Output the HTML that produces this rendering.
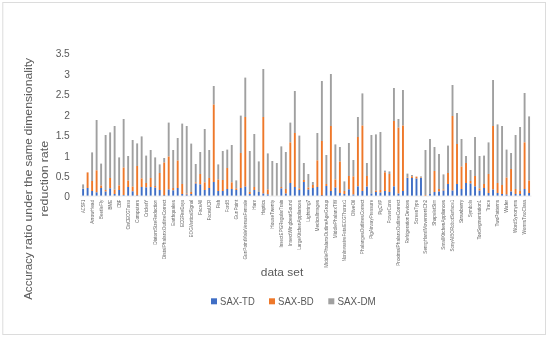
<!DOCTYPE html>
<html lang="en"><head><meta charset="utf-8"><title>Accuracy ratio chart</title>
<style>
html,body{margin:0;padding:0;background:#fff;}
body{width:550px;height:340px;overflow:hidden;}
svg{display:block;font-family:"Liberation Sans",Arial,sans-serif;}
</style></head><body>
<svg width="550" height="340" viewBox="0 0 550 340">
<rect x="0" y="0" width="550" height="340" fill="#fff"/>
<rect x="2.8" y="2.5" width="542.7" height="332" fill="none" stroke="#DCDCDC" stroke-width="1"/>
<line x1="80.5" y1="196.1" x2="531.5" y2="196.1" stroke="#E6E6E6" stroke-width="0.8"/>

<g fill="#A0A0A0">
<rect x="82.15" y="184.4" width="1.9" height="4.4"/>
<rect x="91.16" y="152.4" width="1.9" height="28.6"/>
<rect x="95.66" y="120.0" width="1.9" height="50.4"/>
<rect x="100.17" y="163.6" width="1.9" height="22.0"/>
<rect x="104.67" y="135.0" width="1.9" height="55.0"/>
<rect x="109.18" y="132.4" width="1.9" height="45.6"/>
<rect x="113.68" y="126.0" width="1.9" height="63.6"/>
<rect x="118.19" y="157.4" width="1.9" height="28.0"/>
<rect x="122.69" y="119.0" width="1.9" height="48.6"/>
<rect x="127.20" y="156.0" width="1.9" height="24.6"/>
<rect x="131.71" y="140.0" width="1.9" height="46.6"/>
<rect x="136.21" y="143.4" width="1.9" height="22.6"/>
<rect x="140.72" y="136.4" width="1.9" height="42.0"/>
<rect x="145.22" y="155.6" width="1.9" height="27.4"/>
<rect x="149.73" y="150.0" width="1.9" height="28.0"/>
<rect x="154.23" y="157.4" width="1.9" height="28.6"/>
<rect x="158.74" y="164.4" width="1.9" height="8.6"/>
<rect x="163.24" y="158.0" width="1.9" height="4.6"/>
<rect x="167.75" y="122.6" width="1.9" height="34.0"/>
<rect x="172.25" y="150.0" width="1.9" height="38.0"/>
<rect x="176.75" y="138.0" width="1.9" height="22.6"/>
<rect x="181.26" y="123.6" width="1.9" height="60.4"/>
<rect x="185.76" y="126.0" width="1.9" height="67.6"/>
<rect x="190.27" y="143.6" width="1.9" height="48.4"/>
<rect x="194.78" y="164.0" width="1.9" height="18.4"/>
<rect x="199.28" y="152.0" width="1.9" height="22.0"/>
<rect x="203.78" y="129.0" width="1.9" height="53.4"/>
<rect x="208.29" y="150.0" width="1.9" height="28.0"/>
<rect x="212.80" y="86.0" width="1.9" height="18.6"/>
<rect x="217.30" y="164.4" width="1.9" height="15.2"/>
<rect x="221.81" y="151.0" width="1.9" height="29.0"/>
<rect x="226.31" y="149.6" width="1.9" height="18.4"/>
<rect x="230.81" y="145.0" width="1.9" height="37.4"/>
<rect x="235.32" y="180.4" width="1.9" height="8.0"/>
<rect x="239.82" y="115.6" width="1.9" height="37.4"/>
<rect x="244.33" y="77.6" width="1.9" height="39.4"/>
<rect x="248.84" y="151.0" width="1.9" height="41.0"/>
<rect x="253.34" y="134.0" width="1.9" height="53.0"/>
<rect x="257.84" y="161.4" width="1.9" height="30.6"/>
<rect x="262.35" y="69.0" width="1.9" height="48.0"/>
<rect x="266.85" y="153.4" width="1.9" height="36.2"/>
<rect x="271.36" y="161.0" width="1.9" height="34.6"/>
<rect x="275.87" y="163.0" width="1.9" height="32.6"/>
<rect x="280.37" y="146.4" width="1.9" height="40.6"/>
<rect x="284.88" y="152.0" width="1.9" height="37.0"/>
<rect x="289.38" y="122.6" width="1.9" height="19.8"/>
<rect x="293.88" y="91.0" width="1.9" height="42.0"/>
<rect x="298.39" y="135.6" width="1.9" height="52.8"/>
<rect x="302.90" y="163.0" width="1.9" height="17.0"/>
<rect x="307.40" y="174.0" width="1.9" height="13.6"/>
<rect x="311.91" y="182.0" width="1.9" height="3.0"/>
<rect x="316.41" y="133.0" width="1.9" height="27.4"/>
<rect x="320.92" y="81.0" width="1.9" height="60.0"/>
<rect x="325.42" y="155.0" width="1.9" height="29.0"/>
<rect x="329.93" y="74.0" width="1.9" height="52.0"/>
<rect x="334.43" y="144.4" width="1.9" height="35.2"/>
<rect x="338.94" y="147.0" width="1.9" height="14.6"/>
<rect x="343.44" y="181.4" width="1.9" height="9.6"/>
<rect x="347.94" y="143.0" width="1.9" height="33.0"/>
<rect x="352.45" y="160.0" width="1.9" height="16.4"/>
<rect x="356.95" y="117.0" width="1.9" height="20.0"/>
<rect x="361.46" y="93.4" width="1.9" height="32.2"/>
<rect x="365.96" y="163.0" width="1.9" height="13.0"/>
<rect x="370.47" y="135.0" width="1.9" height="58.6"/>
<rect x="374.97" y="134.4" width="1.9" height="56.2"/>
<rect x="379.48" y="132.0" width="1.9" height="58.0"/>
<rect x="383.98" y="170.6" width="1.9" height="1.8"/>
<rect x="388.49" y="171.4" width="1.9" height="2.6"/>
<rect x="392.99" y="88.0" width="1.9" height="33.0"/>
<rect x="397.50" y="119.0" width="1.9" height="8.6"/>
<rect x="402.01" y="90.0" width="1.9" height="35.6"/>
<rect x="406.51" y="173.6" width="1.9" height="4.0"/>
<rect x="411.02" y="175.0" width="1.9" height="1.4"/>
<rect x="420.03" y="176.4" width="1.9" height="1.2"/>
<rect x="424.53" y="150.0" width="1.9" height="45.0"/>
<rect x="429.04" y="139.0" width="1.9" height="55.0"/>
<rect x="433.54" y="147.0" width="1.9" height="24.0"/>
<rect x="438.05" y="154.0" width="1.9" height="35.0"/>
<rect x="442.55" y="174.4" width="1.9" height="15.2"/>
<rect x="447.06" y="145.6" width="1.9" height="27.4"/>
<rect x="451.56" y="85.0" width="1.9" height="31.0"/>
<rect x="456.06" y="113.0" width="1.9" height="31.0"/>
<rect x="460.57" y="139.0" width="1.9" height="27.6"/>
<rect x="465.07" y="156.0" width="1.9" height="7.0"/>
<rect x="469.58" y="170.0" width="1.9" height="11.0"/>
<rect x="474.08" y="137.0" width="1.9" height="39.0"/>
<rect x="478.59" y="156.0" width="1.9" height="32.4"/>
<rect x="483.09" y="155.6" width="1.9" height="28.4"/>
<rect x="487.60" y="142.4" width="1.9" height="31.6"/>
<rect x="492.10" y="80.0" width="1.9" height="46.0"/>
<rect x="496.61" y="124.4" width="1.9" height="58.6"/>
<rect x="501.11" y="126.0" width="1.9" height="59.0"/>
<rect x="505.62" y="149.6" width="1.9" height="28.0"/>
<rect x="510.12" y="153.0" width="1.9" height="16.0"/>
<rect x="514.63" y="135.0" width="1.9" height="54.0"/>
<rect x="519.13" y="127.0" width="1.9" height="64.0"/>
<rect x="523.64" y="93.0" width="1.9" height="49.4"/>
<rect x="528.14" y="116.4" width="1.9" height="64.2"/>
</g>
<g fill="#EE782A">
<rect x="86.65" y="172.4" width="1.9" height="15.6"/>
<rect x="91.16" y="181.0" width="1.9" height="10.0"/>
<rect x="95.66" y="170.4" width="1.9" height="22.0"/>
<rect x="100.17" y="185.6" width="1.9" height="2.4"/>
<rect x="104.67" y="190.0" width="1.9" height="1.6"/>
<rect x="109.18" y="178.0" width="1.9" height="10.4"/>
<rect x="113.68" y="189.6" width="1.9" height="4.4"/>
<rect x="118.19" y="185.4" width="1.9" height="4.6"/>
<rect x="122.69" y="167.6" width="1.9" height="27.4"/>
<rect x="127.20" y="180.6" width="1.9" height="6.4"/>
<rect x="131.71" y="186.6" width="1.9" height="4.8"/>
<rect x="136.21" y="166.0" width="1.9" height="29.4"/>
<rect x="140.72" y="178.4" width="1.9" height="8.6"/>
<rect x="145.22" y="183.0" width="1.9" height="4.4"/>
<rect x="149.73" y="178.0" width="1.9" height="9.0"/>
<rect x="154.23" y="186.0" width="1.9" height="1.6"/>
<rect x="158.74" y="173.0" width="1.9" height="17.0"/>
<rect x="163.24" y="162.6" width="1.9" height="32.8"/>
<rect x="167.75" y="156.6" width="1.9" height="33.0"/>
<rect x="172.25" y="188.0" width="1.9" height="2.4"/>
<rect x="176.75" y="160.6" width="1.9" height="27.4"/>
<rect x="181.26" y="184.0" width="1.9" height="10.0"/>
<rect x="185.76" y="193.6" width="1.9" height="1.0"/>
<rect x="190.27" y="192.0" width="1.9" height="2.0"/>
<rect x="194.78" y="182.4" width="1.9" height="1.2"/>
<rect x="199.28" y="174.0" width="1.9" height="10.4"/>
<rect x="203.78" y="182.4" width="1.9" height="7.6"/>
<rect x="208.29" y="178.0" width="1.9" height="10.0"/>
<rect x="212.80" y="104.6" width="1.9" height="77.4"/>
<rect x="217.30" y="179.6" width="1.9" height="11.4"/>
<rect x="221.81" y="180.0" width="1.9" height="11.0"/>
<rect x="226.31" y="168.0" width="1.9" height="21.0"/>
<rect x="230.81" y="182.4" width="1.9" height="6.6"/>
<rect x="235.32" y="188.4" width="1.9" height="1.6"/>
<rect x="239.82" y="153.0" width="1.9" height="35.0"/>
<rect x="244.33" y="117.0" width="1.9" height="69.6"/>
<rect x="248.84" y="192.0" width="1.9" height="2.0"/>
<rect x="253.34" y="187.0" width="1.9" height="3.0"/>
<rect x="262.35" y="117.0" width="1.9" height="76.6"/>
<rect x="266.85" y="189.6" width="1.9" height="4.8"/>
<rect x="280.37" y="187.0" width="1.9" height="1.4"/>
<rect x="284.88" y="189.0" width="1.9" height="4.6"/>
<rect x="289.38" y="142.4" width="1.9" height="40.6"/>
<rect x="293.88" y="133.0" width="1.9" height="54.0"/>
<rect x="298.39" y="188.4" width="1.9" height="1.6"/>
<rect x="302.90" y="180.0" width="1.9" height="2.0"/>
<rect x="307.40" y="187.6" width="1.9" height="2.0"/>
<rect x="311.91" y="185.0" width="1.9" height="3.0"/>
<rect x="316.41" y="160.4" width="1.9" height="26.6"/>
<rect x="320.92" y="141.0" width="1.9" height="54.6"/>
<rect x="325.42" y="184.0" width="1.9" height="2.0"/>
<rect x="329.93" y="126.0" width="1.9" height="65.0"/>
<rect x="334.43" y="179.6" width="1.9" height="8.0"/>
<rect x="338.94" y="161.6" width="1.9" height="31.4"/>
<rect x="343.44" y="191.0" width="1.9" height="3.0"/>
<rect x="347.94" y="176.0" width="1.9" height="13.4"/>
<rect x="352.45" y="176.4" width="1.9" height="18.2"/>
<rect x="356.95" y="137.0" width="1.9" height="49.4"/>
<rect x="361.46" y="125.6" width="1.9" height="65.4"/>
<rect x="365.96" y="176.0" width="1.9" height="10.6"/>
<rect x="374.97" y="190.6" width="1.9" height="1.4"/>
<rect x="379.48" y="190.0" width="1.9" height="2.6"/>
<rect x="383.98" y="172.4" width="1.9" height="18.6"/>
<rect x="388.49" y="174.0" width="1.9" height="18.0"/>
<rect x="392.99" y="121.0" width="1.9" height="65.4"/>
<rect x="397.50" y="127.6" width="1.9" height="66.0"/>
<rect x="402.01" y="125.6" width="1.9" height="65.4"/>
<rect x="406.51" y="177.6" width="1.9" height="0.4"/>
<rect x="411.02" y="176.4" width="1.9" height="1.6"/>
<rect x="415.52" y="176.6" width="1.9" height="2.0"/>
<rect x="420.03" y="177.6" width="1.9" height="0.4"/>
<rect x="424.53" y="195.0" width="1.9" height="0.6"/>
<rect x="433.54" y="171.0" width="1.9" height="21.0"/>
<rect x="438.05" y="189.0" width="1.9" height="2.6"/>
<rect x="442.55" y="189.6" width="1.9" height="1.0"/>
<rect x="447.06" y="173.0" width="1.9" height="11.0"/>
<rect x="451.56" y="116.0" width="1.9" height="74.6"/>
<rect x="456.06" y="144.0" width="1.9" height="40.0"/>
<rect x="460.57" y="166.6" width="1.9" height="22.4"/>
<rect x="465.07" y="163.0" width="1.9" height="20.0"/>
<rect x="469.58" y="181.0" width="1.9" height="2.6"/>
<rect x="474.08" y="176.0" width="1.9" height="10.4"/>
<rect x="478.59" y="188.4" width="1.9" height="2.2"/>
<rect x="483.09" y="184.0" width="1.9" height="4.0"/>
<rect x="487.60" y="174.0" width="1.9" height="19.0"/>
<rect x="492.10" y="126.0" width="1.9" height="63.6"/>
<rect x="496.61" y="183.0" width="1.9" height="10.0"/>
<rect x="501.11" y="185.0" width="1.9" height="9.0"/>
<rect x="505.62" y="177.6" width="1.9" height="17.0"/>
<rect x="510.12" y="169.0" width="1.9" height="22.6"/>
<rect x="514.63" y="189.0" width="1.9" height="5.0"/>
<rect x="519.13" y="191.0" width="1.9" height="3.0"/>
<rect x="523.64" y="142.4" width="1.9" height="46.6"/>
<rect x="528.14" y="180.6" width="1.9" height="12.4"/>
</g>
<g fill="#3F6EC5">
<rect x="82.15" y="189.0" width="1.9" height="6.6"/>
<rect x="86.65" y="188.0" width="1.9" height="7.6"/>
<rect x="91.16" y="191.0" width="1.9" height="4.6"/>
<rect x="95.66" y="192.4" width="1.9" height="3.2"/>
<rect x="100.17" y="188.0" width="1.9" height="7.6"/>
<rect x="104.67" y="191.6" width="1.9" height="4.0"/>
<rect x="109.18" y="188.4" width="1.9" height="7.2"/>
<rect x="113.68" y="194.0" width="1.9" height="1.6"/>
<rect x="118.19" y="190.0" width="1.9" height="5.6"/>
<rect x="122.69" y="195.0" width="1.9" height="0.6"/>
<rect x="127.20" y="187.0" width="1.9" height="8.6"/>
<rect x="131.71" y="191.4" width="1.9" height="4.2"/>
<rect x="136.21" y="195.1" width="1.9" height="0.5"/>
<rect x="140.72" y="187.0" width="1.9" height="8.6"/>
<rect x="145.22" y="187.4" width="1.9" height="8.2"/>
<rect x="149.73" y="187.0" width="1.9" height="8.6"/>
<rect x="154.23" y="187.6" width="1.9" height="8.0"/>
<rect x="158.74" y="190.0" width="1.9" height="5.6"/>
<rect x="163.24" y="195.1" width="1.9" height="0.5"/>
<rect x="167.75" y="189.6" width="1.9" height="6.0"/>
<rect x="172.25" y="190.4" width="1.9" height="5.2"/>
<rect x="176.75" y="188.0" width="1.9" height="7.6"/>
<rect x="181.26" y="194.0" width="1.9" height="1.6"/>
<rect x="185.76" y="194.6" width="1.9" height="1.0"/>
<rect x="190.27" y="194.0" width="1.9" height="1.6"/>
<rect x="194.78" y="183.6" width="1.9" height="12.0"/>
<rect x="199.28" y="184.4" width="1.9" height="11.2"/>
<rect x="203.78" y="190.0" width="1.9" height="5.6"/>
<rect x="208.29" y="188.0" width="1.9" height="7.6"/>
<rect x="212.80" y="182.0" width="1.9" height="13.6"/>
<rect x="217.30" y="191.0" width="1.9" height="4.6"/>
<rect x="221.81" y="191.0" width="1.9" height="4.6"/>
<rect x="226.31" y="189.0" width="1.9" height="6.6"/>
<rect x="230.81" y="189.0" width="1.9" height="6.6"/>
<rect x="235.32" y="190.0" width="1.9" height="5.6"/>
<rect x="239.82" y="188.0" width="1.9" height="7.6"/>
<rect x="244.33" y="186.6" width="1.9" height="9.0"/>
<rect x="248.84" y="194.0" width="1.9" height="1.6"/>
<rect x="253.34" y="190.0" width="1.9" height="5.6"/>
<rect x="257.84" y="192.0" width="1.9" height="3.6"/>
<rect x="262.35" y="193.6" width="1.9" height="2.0"/>
<rect x="266.85" y="194.4" width="1.9" height="1.2"/>
<rect x="280.37" y="188.4" width="1.9" height="7.2"/>
<rect x="284.88" y="193.6" width="1.9" height="2.0"/>
<rect x="289.38" y="183.0" width="1.9" height="12.6"/>
<rect x="293.88" y="187.0" width="1.9" height="8.6"/>
<rect x="298.39" y="190.0" width="1.9" height="5.6"/>
<rect x="302.90" y="182.0" width="1.9" height="13.6"/>
<rect x="307.40" y="189.6" width="1.9" height="6.0"/>
<rect x="311.91" y="188.0" width="1.9" height="7.6"/>
<rect x="316.41" y="187.0" width="1.9" height="8.6"/>
<rect x="320.92" y="195.1" width="1.9" height="0.5"/>
<rect x="325.42" y="186.0" width="1.9" height="9.6"/>
<rect x="329.93" y="191.0" width="1.9" height="4.6"/>
<rect x="334.43" y="187.6" width="1.9" height="8.0"/>
<rect x="338.94" y="193.0" width="1.9" height="2.6"/>
<rect x="343.44" y="194.0" width="1.9" height="1.6"/>
<rect x="347.94" y="189.4" width="1.9" height="6.2"/>
<rect x="352.45" y="194.6" width="1.9" height="1.0"/>
<rect x="356.95" y="186.4" width="1.9" height="9.2"/>
<rect x="361.46" y="191.0" width="1.9" height="4.6"/>
<rect x="365.96" y="186.6" width="1.9" height="9.0"/>
<rect x="370.47" y="193.6" width="1.9" height="2.0"/>
<rect x="374.97" y="192.0" width="1.9" height="3.6"/>
<rect x="379.48" y="192.6" width="1.9" height="3.0"/>
<rect x="383.98" y="191.0" width="1.9" height="4.6"/>
<rect x="388.49" y="192.0" width="1.9" height="3.6"/>
<rect x="392.99" y="186.4" width="1.9" height="9.2"/>
<rect x="397.50" y="193.6" width="1.9" height="2.0"/>
<rect x="402.01" y="191.0" width="1.9" height="4.6"/>
<rect x="406.51" y="178.0" width="1.9" height="17.6"/>
<rect x="411.02" y="178.0" width="1.9" height="17.6"/>
<rect x="415.52" y="178.6" width="1.9" height="17.0"/>
<rect x="420.03" y="178.0" width="1.9" height="17.6"/>
<rect x="429.04" y="194.0" width="1.9" height="1.6"/>
<rect x="433.54" y="192.0" width="1.9" height="3.6"/>
<rect x="438.05" y="191.6" width="1.9" height="4.0"/>
<rect x="442.55" y="190.6" width="1.9" height="5.0"/>
<rect x="447.06" y="184.0" width="1.9" height="11.6"/>
<rect x="451.56" y="190.6" width="1.9" height="5.0"/>
<rect x="456.06" y="184.0" width="1.9" height="11.6"/>
<rect x="460.57" y="189.0" width="1.9" height="6.6"/>
<rect x="465.07" y="183.0" width="1.9" height="12.6"/>
<rect x="469.58" y="183.6" width="1.9" height="12.0"/>
<rect x="474.08" y="186.4" width="1.9" height="9.2"/>
<rect x="478.59" y="190.6" width="1.9" height="5.0"/>
<rect x="483.09" y="188.0" width="1.9" height="7.6"/>
<rect x="487.60" y="193.0" width="1.9" height="2.6"/>
<rect x="492.10" y="189.6" width="1.9" height="6.0"/>
<rect x="496.61" y="193.0" width="1.9" height="2.6"/>
<rect x="501.11" y="194.0" width="1.9" height="1.6"/>
<rect x="505.62" y="194.6" width="1.9" height="1.0"/>
<rect x="510.12" y="191.6" width="1.9" height="4.0"/>
<rect x="514.63" y="194.0" width="1.9" height="1.6"/>
<rect x="519.13" y="194.0" width="1.9" height="1.6"/>
<rect x="523.64" y="189.0" width="1.9" height="6.6"/>
<rect x="528.14" y="193.0" width="1.9" height="2.6"/>
</g>
<g fill="#595959" font-size="10.2" text-anchor="end">
<text x="69.8" y="199.8">0</text>
<text x="69.8" y="179.8">0.5</text>
<text x="69.8" y="159.8">1</text>
<text x="69.8" y="139.4">1.5</text>
<text x="69.8" y="119.3">2</text>
<text x="69.8" y="98.2">2.5</text>
<text x="69.8" y="77.8">3</text>
<text x="69.8" y="57.4">3.5</text>
</g>
<g fill="#686868" font-size="4.5" text-anchor="end">
<text transform="translate(84.50,199.8) rotate(-90)" textLength="13.12" lengthAdjust="spacingAndGlyphs">ACSF1</text>
<text transform="translate(93.51,199.8) rotate(-90)" textLength="24.01" lengthAdjust="spacingAndGlyphs">ArrowHead</text>
<text transform="translate(102.52,199.8) rotate(-90)" textLength="19.35" lengthAdjust="spacingAndGlyphs">BeetleFly</text>
<text transform="translate(111.53,199.8) rotate(-90)" textLength="9.76" lengthAdjust="spacingAndGlyphs">BME</text>
<text transform="translate(120.54,199.8) rotate(-90)" textLength="7.94" lengthAdjust="spacingAndGlyphs">CBF</text>
<text transform="translate(129.55,199.8) rotate(-90)" textLength="29.74" lengthAdjust="spacingAndGlyphs">CinCECGTorso</text>
<text transform="translate(138.56,199.8) rotate(-90)" textLength="23.17" lengthAdjust="spacingAndGlyphs">Computers</text>
<text transform="translate(147.57,199.8) rotate(-90)" textLength="17.11" lengthAdjust="spacingAndGlyphs">CricketY</text>
<text transform="translate(156.58,199.8) rotate(-90)" textLength="44.95" lengthAdjust="spacingAndGlyphs">DiatomSizeReduction</text>
<text transform="translate(165.59,199.8) rotate(-90)" textLength="59.36" lengthAdjust="spacingAndGlyphs">DistalPhalanxOutlineCorrect</text>
<text transform="translate(174.60,199.8) rotate(-90)" textLength="26.10" lengthAdjust="spacingAndGlyphs">Earthquakes</text>
<text transform="translate(183.61,199.8) rotate(-90)" textLength="27.03" lengthAdjust="spacingAndGlyphs">ECGFiveDays</text>
<text transform="translate(192.62,199.8) rotate(-90)" textLength="37.65" lengthAdjust="spacingAndGlyphs">EOGVerticalSignal</text>
<text transform="translate(201.63,199.8) rotate(-90)" textLength="14.97" lengthAdjust="spacingAndGlyphs">FaceAll</text>
<text transform="translate(210.64,199.8) rotate(-90)" textLength="20.51" lengthAdjust="spacingAndGlyphs">FacesUCR</text>
<text transform="translate(219.65,199.8) rotate(-90)" textLength="8.29" lengthAdjust="spacingAndGlyphs">Fish</text>
<text transform="translate(228.66,199.8) rotate(-90)" textLength="12.43" lengthAdjust="spacingAndGlyphs">FordB</text>
<text transform="translate(237.67,199.8) rotate(-90)" textLength="19.72" lengthAdjust="spacingAndGlyphs">GunPoint</text>
<text transform="translate(246.68,199.8) rotate(-90)" textLength="59.75" lengthAdjust="spacingAndGlyphs">GunPointMaleVersusFemale</text>
<text transform="translate(255.69,199.8) rotate(-90)" textLength="9.83" lengthAdjust="spacingAndGlyphs">Ham</text>
<text transform="translate(264.70,199.8) rotate(-90)" textLength="15.54" lengthAdjust="spacingAndGlyphs">Haptics</text>
<text transform="translate(273.71,199.8) rotate(-90)" textLength="28.83" lengthAdjust="spacingAndGlyphs">HouseTwenty</text>
<text transform="translate(282.72,199.8) rotate(-90)" textLength="47.68" lengthAdjust="spacingAndGlyphs">InsectEPGRegularTrain</text>
<text transform="translate(291.73,199.8) rotate(-90)" textLength="46.20" lengthAdjust="spacingAndGlyphs">InsectWingbeatSound</text>
<text transform="translate(300.74,199.8) rotate(-90)" textLength="50.02" lengthAdjust="spacingAndGlyphs">LargeKitchenAppliances</text>
<text transform="translate(309.75,199.8) rotate(-90)" textLength="21.91" lengthAdjust="spacingAndGlyphs">Lightning7</text>
<text transform="translate(318.76,199.8) rotate(-90)" textLength="31.68" lengthAdjust="spacingAndGlyphs">MedicalImages</text>
<text transform="translate(327.77,199.8) rotate(-90)" textLength="68.02" lengthAdjust="spacingAndGlyphs">MiddlePhalanxOutlineAgeGroup</text>
<text transform="translate(336.78,199.8) rotate(-90)" textLength="38.39" lengthAdjust="spacingAndGlyphs">MiddlePhalanxTW</text>
<text transform="translate(345.79,199.8) rotate(-90)" textLength="61.70" lengthAdjust="spacingAndGlyphs">NonInvasiveFetalECGThorax1</text>
<text transform="translate(354.80,199.8) rotate(-90)" textLength="16.49" lengthAdjust="spacingAndGlyphs">OliveOil</text>
<text transform="translate(363.81,199.8) rotate(-90)" textLength="54.40" lengthAdjust="spacingAndGlyphs">PhalangesOutlinesCorrect</text>
<text transform="translate(372.82,199.8) rotate(-90)" textLength="38.98" lengthAdjust="spacingAndGlyphs">PigAirwayPressure</text>
<text transform="translate(381.83,199.8) rotate(-90)" textLength="14.65" lengthAdjust="spacingAndGlyphs">PigCVP</text>
<text transform="translate(390.84,199.8) rotate(-90)" textLength="23.69" lengthAdjust="spacingAndGlyphs">PowerCons</text>
<text transform="translate(399.85,199.8) rotate(-90)" textLength="66.00" lengthAdjust="spacingAndGlyphs">ProximalPhalanxOutlineCorrect</text>
<text transform="translate(408.86,199.8) rotate(-90)" textLength="43.65" lengthAdjust="spacingAndGlyphs">RefrigerationDevices</text>
<text transform="translate(417.87,199.8) rotate(-90)" textLength="24.38" lengthAdjust="spacingAndGlyphs">ScreenType</text>
<text transform="translate(426.88,199.8) rotate(-90)" textLength="53.94" lengthAdjust="spacingAndGlyphs">SemgHandMovementCh2</text>
<text transform="translate(435.89,199.8) rotate(-90)" textLength="26.03" lengthAdjust="spacingAndGlyphs">ShapeletSim</text>
<text transform="translate(444.90,199.8) rotate(-90)" textLength="49.91" lengthAdjust="spacingAndGlyphs">SmallKitchenAppliances</text>
<text transform="translate(453.91,199.8) rotate(-90)" textLength="51.72" lengthAdjust="spacingAndGlyphs">SonyAIBORobotSurface1</text>
<text transform="translate(462.92,199.8) rotate(-90)" textLength="23.32" lengthAdjust="spacingAndGlyphs">Strawberry</text>
<text transform="translate(471.93,199.8) rotate(-90)" textLength="17.49" lengthAdjust="spacingAndGlyphs">Symbols</text>
<text transform="translate(480.94,199.8) rotate(-90)" textLength="39.80" lengthAdjust="spacingAndGlyphs">ToeSegmentation1</text>
<text transform="translate(489.95,199.8) rotate(-90)" textLength="11.56" lengthAdjust="spacingAndGlyphs">Trace</text>
<text transform="translate(498.96,199.8) rotate(-90)" textLength="26.67" lengthAdjust="spacingAndGlyphs">TwoPatterns</text>
<text transform="translate(507.97,199.8) rotate(-90)" textLength="13.03" lengthAdjust="spacingAndGlyphs">Wafer</text>
<text transform="translate(516.98,199.8) rotate(-90)" textLength="33.21" lengthAdjust="spacingAndGlyphs">WordSynonyms</text>
<text transform="translate(525.99,199.8) rotate(-90)" textLength="34.68" lengthAdjust="spacingAndGlyphs">WormsTwoClass</text>
</g>
<g fill="#595959">
<g transform="translate(31.9,178.8) rotate(-90)" font-size="11.6"><text x="-121.05" y="0" textLength="47.50" lengthAdjust="spacingAndGlyphs">Accuracy</text><text x="-70.61" y="0" textLength="24.95" lengthAdjust="spacingAndGlyphs">ratio</text><text x="-42.72" y="0" textLength="31.49" lengthAdjust="spacingAndGlyphs">under</text><text x="-8.30" y="0" textLength="17.65" lengthAdjust="spacingAndGlyphs">the</text><text x="12.29" y="0" textLength="28.17" lengthAdjust="spacingAndGlyphs">same</text><text x="43.40" y="0" textLength="77.65" lengthAdjust="spacingAndGlyphs">dimensionality</text></g>
<g transform="translate(48.2,178.6) rotate(-90)" font-size="11.6"><text x="-37.85" y="0" textLength="51.17" lengthAdjust="spacingAndGlyphs">reduction</text><text x="16.26" y="0" textLength="21.59" lengthAdjust="spacingAndGlyphs">rate</text></g>
</g>
<text x="282" y="276" fill="#595959" font-size="11.8" text-anchor="middle" textLength="42.4" lengthAdjust="spacingAndGlyphs">data set</text>
<g font-size="10.3" fill="#595959">
<rect x="211" y="298.3" width="6" height="6" fill="#3F6EC5"/><text x="220.1" y="304.7" textLength="34.6" lengthAdjust="spacingAndGlyphs">SAX-TD</text>
<rect x="269" y="298.3" width="6" height="6" fill="#EE782A"/><text x="278.1" y="304.7" textLength="35.6" lengthAdjust="spacingAndGlyphs">SAX-BD</text>
<rect x="328.3" y="298.3" width="6" height="6" fill="#A0A0A0"/><text x="337.40000000000003" y="304.7" textLength="38.4" lengthAdjust="spacingAndGlyphs">SAX-DM</text>
</g>
</svg></body></html>
